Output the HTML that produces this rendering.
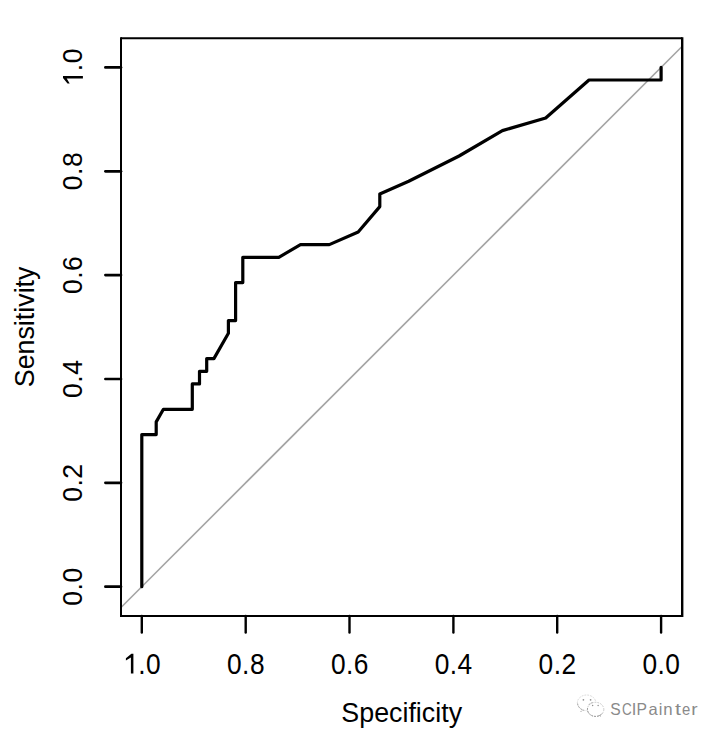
<!DOCTYPE html>
<html><head><meta charset="utf-8">
<style>
html,body{margin:0;padding:0;background:#fff;}
body{width:721px;height:738px;overflow:hidden;}
svg{display:block;}
text{font-family:"Liberation Sans",sans-serif;fill:#000;}
.h{fill:transparent;}
</style></head>
<body>
<svg width="721" height="738" viewBox="0 0 721 738">
<rect x="0" y="0" width="721" height="738" fill="#fff"/>
<line x1="121" y1="607.5" x2="682" y2="46.5" stroke="#a4a4a4" stroke-width="1.6"/>
<path d="M121,38.2 H682.2 M121,616 H682.2" stroke="#000" stroke-width="2" fill="none"/>
<path d="M121,37.2 V617" stroke="#000" stroke-width="2" fill="none"/>
<path d="M682.2,37.2 V617" stroke="#000" stroke-width="2.4" fill="none"/>
<g stroke="#000" stroke-width="2.7" stroke-linecap="round">
<line x1="105.4" y1="586.7" x2="121" y2="586.7"/>
<line x1="105.4" y1="482.8" x2="121" y2="482.8"/>
<line x1="105.4" y1="379.0" x2="121" y2="379.0"/>
<line x1="105.4" y1="275.1" x2="121" y2="275.1"/>
<line x1="105.4" y1="171.3" x2="121" y2="171.3"/>
<line x1="105.4" y1="67.4" x2="121" y2="67.4"/>
</g>
<g stroke="#000" stroke-width="2.4" stroke-linecap="round">
<line x1="141.8" y1="616" x2="141.8" y2="632.6"/>
<line x1="245.7" y1="616" x2="245.7" y2="632.6"/>
<line x1="349.5" y1="616" x2="349.5" y2="632.6"/>
<line x1="453.4" y1="616" x2="453.4" y2="632.6"/>
<line x1="557.2" y1="616" x2="557.2" y2="632.6"/>
<line x1="661.1" y1="616" x2="661.1" y2="632.6"/>
</g>
<g font-size="28" text-anchor="middle">
<text letter-spacing="0.5" transform="translate(142.1,673.8) scale(0.94,1.05)"><tspan class="h">1</tspan>.0</text>
<text letter-spacing="0.5" transform="translate(246.0,673.8) scale(0.94,1.05)">0.8</text>
<text letter-spacing="0.5" transform="translate(349.9,673.8) scale(0.94,1.05)">0.6</text>
<text letter-spacing="0.5" transform="translate(453.7,673.8) scale(0.94,1.05)">0.4</text>
<text letter-spacing="0.5" transform="translate(557.6,673.8) scale(0.94,1.05)">0.2</text>
<text letter-spacing="0.5" transform="translate(661.4,673.8) scale(0.94,1.05)">0.0</text>
<text letter-spacing="0.5" transform="translate(82.4,586.5) rotate(-90) scale(0.95,1)">0.0</text>
<text letter-spacing="0.5" transform="translate(82.4,482.6) rotate(-90) scale(0.95,1)">0.2</text>
<text letter-spacing="0.5" transform="translate(82.4,378.7) rotate(-90) scale(0.95,1)">0.4</text>
<text letter-spacing="0.5" transform="translate(82.4,274.9) rotate(-90) scale(0.95,1)">0.6</text>
<text letter-spacing="0.5" transform="translate(82.4,171.0) rotate(-90) scale(0.95,1)">0.8</text>
<text letter-spacing="0.5" transform="translate(82.4,67.2) rotate(-90) scale(0.95,1)"><tspan class="h">1</tspan>.0</text>
<text transform="translate(401.7,722) scale(0.958,1)">Specificity</text>
<text transform="translate(33.5,326.9) rotate(-90) scale(0.958,1)">Sensitivity</text>
</g>
<path fill="#000" d="M133.40,653.70 L133.40,673.60 L130.90,673.60 L130.90,657.40 L125.90,660.40 L125.90,658.20 L131.40,653.70 Z"/>
<path fill="#000" d="M63.00,76.00 L82.90,76.00 L82.90,78.50 L66.70,78.50 L69.70,83.50 L67.50,83.50 L63.00,78.00 Z"/>
<polyline fill="none" stroke="#000" stroke-width="3.2" stroke-linejoin="round" stroke-linecap="round" points="141.8,586.7 141.8,434.6 156.2,434.6 156.2,421.9 163.4,409.3 192.3,409.3 192.3,383.9 199.5,383.9 199.5,371.3 206.7,371.3 206.7,358.6 213.9,358.6 228.4,333.3 228.4,320.6 235.6,320.6 235.6,282.6 242.8,282.6 242.8,257.3 278.8,257.3 300.5,244.6 329.3,244.6 358.2,232.0 379.8,206.6 379.8,194.0 408.7,181.3 459.1,156.0 502.4,130.6 545.7,118.0 589.0,80.0 661.1,80.0 661.1,67.3"/>
<g stroke-width="0.9" stroke-dasharray="1.8 1.1" fill="none">
<ellipse cx="586.6" cy="702.8" rx="9.2" ry="7.8" stroke="#d4d4d4"/>
<path d="M577.6,703.5 A9.2,7.8 0 0 0 584,710.4" stroke="#9a9a9a"/>
<path d="M580.5,712 L583,709.5" stroke="#a0a0a0"/>
<ellipse cx="595.6" cy="709.4" rx="8.2" ry="7.1" fill="#fff" stroke="#c4c4c4"/>
<path d="M587.6,708 A8.2,7.1 0 0 0 602.5,713.2" stroke="#8f8f8f"/>
<path d="M588.5,705 A8.2,7.1 0 0 1 592.5,702.6" stroke="#a0a0a0"/>
<path d="M600.5,716.4 L599,715" stroke="#909090"/>
</g>
<g fill="#909090">
<circle cx="583.4" cy="699.8" r="0.85"/><circle cx="590.6" cy="699.8" r="0.85"/>
<circle cx="592.6" cy="705.6" r="0.75"/><circle cx="598.1" cy="705.6" r="0.75"/>
</g>
<g font-size="16.5">
<text style="fill:#8a8a8a" transform="translate(610.3,714.6) scale(0.95,1)">S</text>
<text style="fill:#8a8a8a" transform="translate(622.0,714.6) scale(0.82,1)">C</text>
<text style="fill:#8a8a8a" transform="translate(631.7,714.6) scale(1,1)">I</text>
<text style="fill:#8a8a8a" transform="translate(636.5,714.6) scale(0.95,1)">P</text>
<text style="fill:#8a8a8a" transform="translate(648.4,714.6) scale(1,1)">a</text>
<text style="fill:#8a8a8a" transform="translate(658.7,714.6) scale(1,1)">i</text>
<text style="fill:#8a8a8a" transform="translate(663.3,714.6) scale(1.02,1)">n</text>
<text style="fill:#8a8a8a" transform="translate(675.1,714.6) scale(1.3,1)">t</text>
<text style="fill:#8a8a8a" transform="translate(682.0,714.6) scale(0.9,1)">e</text>
<text style="fill:#8a8a8a" transform="translate(691.2,714.6) scale(1.15,1)">r</text>
</g>
</svg>
</body></html>
